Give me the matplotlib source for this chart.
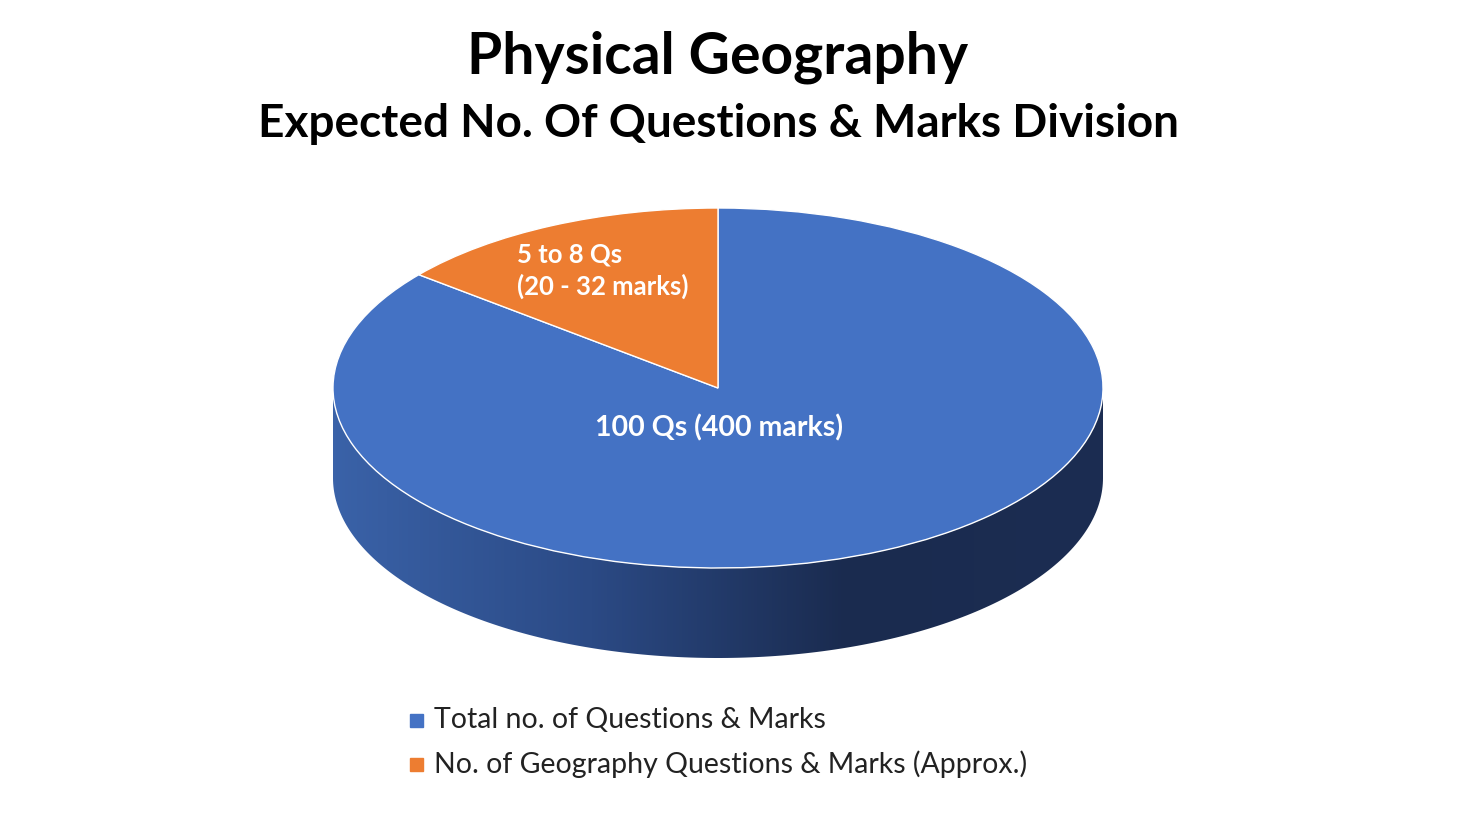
import numpy as np
import matplotlib.pyplot as plt
from matplotlib.patches import Polygon
from matplotlib.colors import LinearSegmentedColormap

plt.rcParams['font.family'] = ['Lato', 'DejaVu Sans']

categories = ['Total no. of Questions & Marks', 'No. of Geography Questions & Marks (Approx.)']
values = [100, 16.5]
slice_labels = ['100 Qs (400 marks)', '5 to 8 Qs\n(20 - 32 marks)']
colors = ['#4472c4', '#ed7d31']

W, H = 1460, 817
fig = plt.figure(figsize=(W / 100, H / 100), dpi=100)

def fx(x):
    return x / W

def fy(y):
    return 1 - y / H

# pie axes: ellipse from px (333,208) to (1103,568), side wall down to 658
depth = 0.5
ax = fig.add_axes([fx(333), fy(658), (1103 - 333) / W, (658 - 208) / H])
ax.axis('off')

# side wall with gradient
t = np.linspace(np.pi, 2 * np.pi, 200)
top = np.column_stack([np.cos(t), np.sin(t)])
bot = np.column_stack([np.cos(t[::-1]), np.sin(t[::-1]) - depth])
wall = Polygon(np.vstack([top, bot]), closed=True, facecolor='none', edgecolor='none')
ax.add_patch(wall)
cmap = LinearSegmentedColormap.from_list('wall', ['#3a62a8', '#2b4a85', '#1a2b4f', '#1c2d52'])
grad = np.linspace(0, 1, 256).reshape(1, -1)
im = ax.imshow(grad, cmap=cmap, extent=(-1, 1, -1 - depth, 0), aspect='auto', zorder=1)
im.set_clip_path(wall)

wedges, _ = ax.pie(values, colors=colors, startangle=90, counterclock=False,
                   radius=1, wedgeprops=dict(edgecolor='white', linewidth=1.0))
ax.set_xlim(-1, 1)
ax.set_ylim(-1 - depth, 1)
ax.set_aspect('auto')
for w in wedges:
    w.set_zorder(2)

fig.text(fx(719), fy(428), slice_labels[0], color='white', fontsize=20.5, fontweight='bold',
         ha='center', va='center')
fig.text(fx(517), fy(271), slice_labels[1], color='white', fontsize=18.5, fontweight='bold',
         ha='left', va='center', linespacing=1.35)

fig.text(fx(718), fy(57), 'Physical Geography', fontsize=41, fontweight='bold', ha='center', va='center')
fig.text(fx(719), fy(124), 'Expected No. Of Questions & Marks Division', fontsize=33,
         fontweight='bold', ha='center', va='center')

for i, (cat, c) in enumerate(zip(categories, colors)):
    y = 720 + 44 * i
    fig.patches.append(plt.Rectangle((fx(410), fy(y + 7)), 13 / W, 13 / H, color=c,
                                     transform=fig.transFigure, figure=fig))
    fig.text(fx(434), fy(y), cat, fontsize=20.5, ha='left', va='center', color='#222222')

fig.savefig('out.png', dpi=100)
